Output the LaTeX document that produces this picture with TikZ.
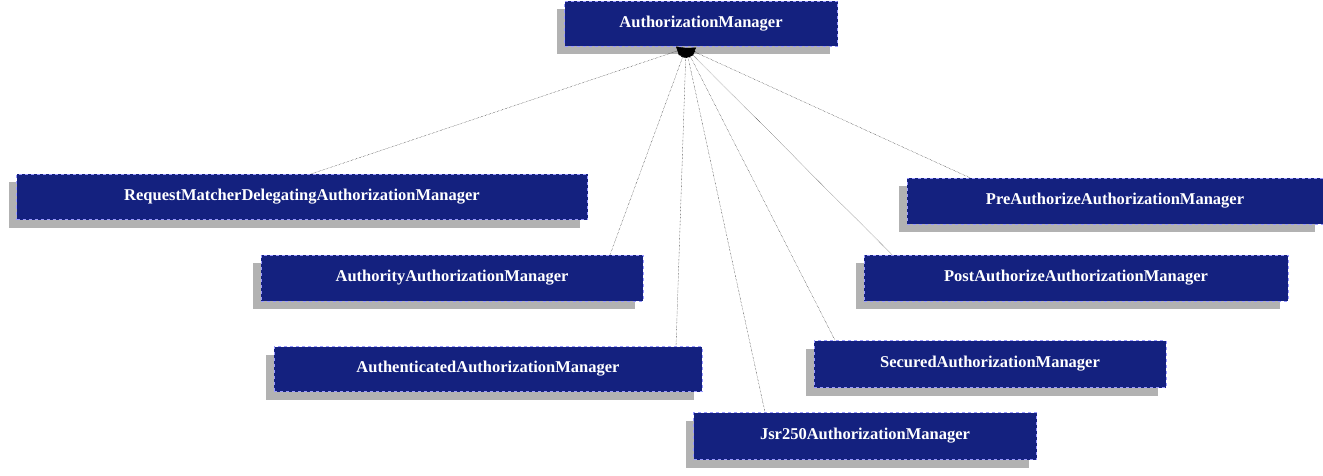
\documentclass[tikz,border=0pt]{standalone}
\usepackage{fontspec}
\setmainfont{Liberation Serif}
\usetikzlibrary{arrows.meta,shadows}
\begin{document}
\begin{tikzpicture}[x=1pt,y=-1pt,
  cls/.style={draw=blue!40!white,dashed,fill={rgb,255:red,20;green,33;blue,127},text=white,
    font=\bfseries\fontsize{16.5}{18}\selectfont,inner sep=0pt,
    drop shadow={shadow xshift=-8pt,shadow yshift=-8pt,fill=black!30,opacity=1}},
  rel/.style={densely dotted,-{Triangle[length=9pt,width=9pt]}}]
\useasboundingbox (0,0) rectangle (1323,476);
\newcommand{\clsbox}[6]{\node[cls,minimum width=#4,minimum height=#5] (#1) at (#2,#3) {#6};}
\clsbox{am}{701}{24}{273}{45}{AuthorizationManager}
\clsbox{rm}{302}{197}{571}{45}{RequestMatcherDelegatingAuthorizationManager}
\clsbox{au}{452}{278}{382}{46}{AuthorityAuthorizationManager}
\clsbox{at}{488}{369}{428}{45}{AuthenticatedAuthorizationManager}
\clsbox{js}{865}{436}{343}{47}{Jsr250AuthorizationManager}
\clsbox{se}{990}{364}{352}{47}{SecuredAuthorizationManager}
\clsbox{po}{1076}{278}{424}{46}{PostAuthorizeAuthorizationManager}
\clsbox{pr}{1115}{201}{416}{46}{PreAuthorizeAuthorizationManager}
\coordinate (tip) at (686,48);
\foreach \n/\x in {rm/310,au/610,at/676,js/765,se/835,po/892,pr/970}{
  \draw[rel] (\n.north -| \x,0) -- (tip);
}
\end{tikzpicture}
\end{document}
